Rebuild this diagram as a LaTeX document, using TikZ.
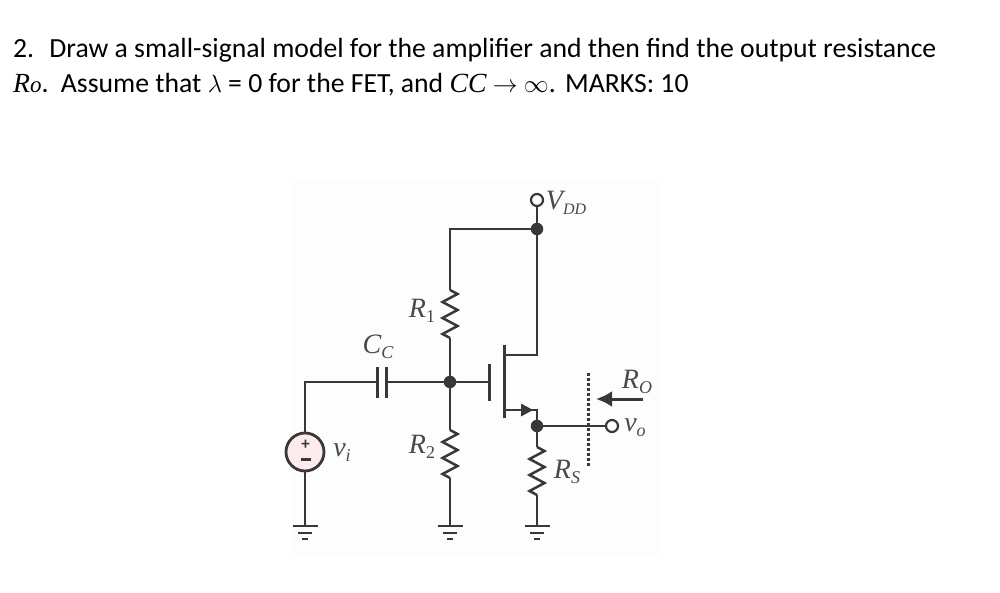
\documentclass[tikz,border=0pt]{standalone}
\usepackage{fontspec}
\setmainfont{Carlito}
\newfontfamily\serifit[ItalicFont=Liberation Serif Italic]{Liberation Serif}
\usetikzlibrary{decorations.pathmorphing,arrows.meta}
\definecolor{ink}{HTML}{383838}
\definecolor{labelc}{HTML}{4A4A4A}
\tikzset{
  wire/.style={draw=ink,line width=2.5pt},
  plate/.style={draw=ink,line width=3pt},
  dotnode/.style={circle,fill=ink,draw=none,minimum size=12.5pt,inner sep=0pt},
  opennode/.style={circle,fill=white,draw=ink,line width=2.2pt,minimum size=12pt,inner sep=0pt},
  srcnode/.style={circle,fill=black!5!red!8!white,draw=ink,line width=2.8pt,minimum size=38pt,inner sep=0pt},
  res/.style={wire,decorate,decoration={zigzag,amplitude=7.5pt,segment length=16pt}},
  lab/.style={inner sep=0pt,text=labelc,font=\serifit\itshape\fontsize{28}{28}\selectfont},
  txt/.style={inner sep=0pt,anchor=base west,text=black,font=\fontsize{27.7}{28}\selectfont},
  gnd/.pic={
    \draw[wire] (-12.5,0) -- (12.5,0);
    \draw[wire] (-7,7) -- (7,7);
    \draw[wire] (-3,13) -- (3,13);
  }
}
\newcommand{\mathser}[1]{{\serifit\itshape #1}}
\begin{document}
\begin{tikzpicture}[x=1pt,y=-1pt]
\useasboundingbox (0,0) rectangle (1000,593);
\fill[white] (0,0) rectangle (1000,593);
\fill[black!0.7] (290,180) rectangle (662,555);
% question
\node[txt] (q1) at (13,58) {2.\hspace{0.55em}Draw a small-signal model for the amplifier and then find the output resistance};
\node[txt] (q2) at (13,93) {\mathser{R}{\serifit\itshape\fontsize{23}{23}\selectfont o}.\hspace{4pt} Assume that $\lambda$ = 0 for the FET, and \mathser{CC} $\rightarrow$ $\infty$.\hspace{1pt} MARKS: 10};
% named points
\node[srcnode] (src) at (305,452) {};
\node[dotnode] (j1) at (450,382) {};
\node[dotnode] (j2) at (537,229) {};
\node[dotnode] (j3) at (537,426) {};
\node[opennode] (vdd) at (537,200) {};
\node[opennode] (vout) at (612,426) {};
\coordinate (corner1) at (305,382);
\coordinate (capl) at (377,382);
\coordinate (capr) at (386,382);
\coordinate (capltop) at (377,367);
\coordinate (caplbot) at (377,398);
\coordinate (caprtop) at (386,367);
\coordinate (caprbot) at (386,398);
\coordinate (gate) at (489,382);
\coordinate (gatetop) at (489,364);
\coordinate (gatebot) at (489,401);
\coordinate (chtop) at (504,345);
\coordinate (chbot) at (504,418);
\coordinate (dstub) at (504,355);
\coordinate (dcorner) at (537,355);
\coordinate (sstub) at (504,410);
\coordinate (scorner) at (537,410);
\coordinate (vddleft) at (450,229);
\coordinate (r1t) at (450,290);
\coordinate (r1b) at (450,338);
\coordinate (r2t) at (450,430);
\coordinate (r2b) at (450,478);
\coordinate (r3t) at (537,447);
\coordinate (r3b) at (537,495);
\coordinate (g1) at (305,526);
\coordinate (g2) at (450,526);
\coordinate (g3) at (537,526);
\coordinate (dottop) at (588,373);
\coordinate (dotbot) at (588,467);
\coordinate (arrs) at (643,399);
\coordinate (arre) at (596,399);
% wires
\draw[wire] (src) -- (corner1) -- (capl);
\draw[wire] (capr) -- (j1);
\draw[wire] (j1) -- (gate);
\draw[plate] (capltop) -- (caplbot);
\draw[plate] (caprtop) -- (caprbot);
\draw[plate] (gatetop) -- (gatebot);
\draw[plate] (chtop) -- (chbot);
\draw[wire] (src) -- (g1);
\draw[wire] (vdd) -- (j2);
\draw[wire] (j2) -- (vddleft) -- (r1t);
\draw[res] (r1t) -- (r1b);
\draw[wire] (r1b) -- (j1);
\draw[wire] (j1) -- (r2t);
\draw[res] (r2t) -- (r2b);
\draw[wire] (r2b) -- (g2);
\draw[wire] (j2) -- (dcorner) -- (dstub);
\draw[wire] (sstub) -- (scorner) -- (j3);
\fill[ink] (533,410) -- (521,403.5) -- (521,416.5) -- cycle;
\draw[wire] (j3) -- (r3t);
\draw[res] (r3t) -- (r3b);
\draw[wire] (r3b) -- (g3);
\draw[wire] (j3) -- (vout);
\draw[draw=ink,line width=3pt,dash pattern=on 2.5pt off 2.5pt] (dottop) -- (dotbot);
\draw[draw=ink,line width=3pt,-{Latex[length=16pt,width=16pt]}] (arrs) -- (arre);
\pic at (g1) {gnd};
\pic at (g2) {gnd};
\pic at (g3) {gnd};
% source signs
\node[inner sep=0pt,font=\bfseries\fontsize{17}{17}\selectfont,text=ink] (sp) at (305.5,444.5) {+};
\fill[ink] (300.5,458) rectangle (310.5,460.5);
% labels
\node[lab] (lvdd) at (566,203) {V\raisebox{-5pt}{\fontsize{16}{16}\selectfont DD}};
\node[lab] (lr1) at (422,311) {R\raisebox{-5pt}{\fontsize{18}{18}\selectfont\upshape 1}};
\node[lab] (lr2) at (422,447) {R\raisebox{-5pt}{\fontsize{18}{18}\selectfont\upshape 2}};
\node[lab] (lcc) at (378,347) {C\raisebox{-5pt}{\fontsize{18}{18}\selectfont C}};
\node[lab] (lvi) at (342,453) {v\raisebox{-5pt}{\fontsize{18}{18}\selectfont i}};
\node[lab] (lrs) at (567,472) {R\raisebox{-5pt}{\fontsize{18}{18}\selectfont S}};
\node[lab] (lro) at (637,382) {R\raisebox{-5pt}{\fontsize{18}{18}\selectfont O}};
\node[lab] (lvo) at (635,428) {v\raisebox{-5pt}{\fontsize{18}{18}\selectfont o}};
\end{tikzpicture}
\end{document}
